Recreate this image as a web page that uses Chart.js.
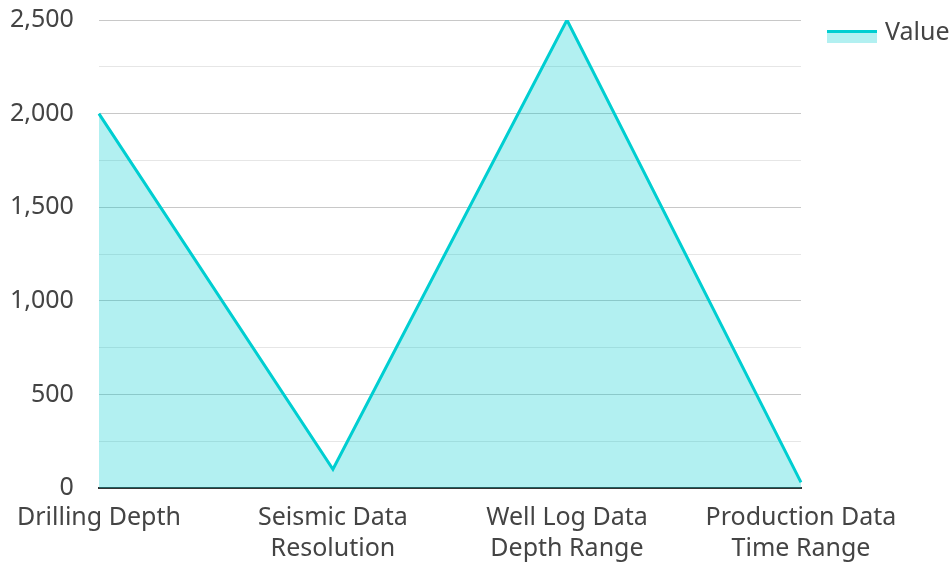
<!DOCTYPE html>
<html>
<head>
<meta charset="utf-8">
<script src="https://cdn.jsdelivr.net/npm/chart.js@4"></script>
<style>
  html, body { margin: 0; padding: 0; background: #fff; }
  #wrap { width: 951px; height: 562px; }
</style>
</head>
<body>
<div id="wrap"><canvas id="chart"></canvas></div>
<script>
const categories = [
  "Drilling Depth",
  ["Seismic Data", "Resolution"],
  ["Well Log Data", "Depth Range"],
  ["Production Data", "Time Range"]
];
const values = [2000, 100, 2500, 30];
const seriesName = "Value";

const lineColor = "#00CED1";
const fillColor = "rgba(0, 206, 209, 0.3)";
const fontSize = 25;
const fontFamily = "'Noto Sans', 'Open Sans', sans-serif";

// legend: light swatch with the series line along its top, then the label
const sideLegend = {
  id: "sideLegend",
  afterDraw(chart) {
    const ctx = chart.ctx;
    const x = chart.chartArea.right + 26;
    const y = chart.chartArea.top + 10;
    ctx.save();
    ctx.fillStyle = fillColor;
    ctx.fillRect(x, y, 50, 13);
    ctx.fillStyle = lineColor;
    ctx.fillRect(x, y, 50, 3);
    ctx.fillStyle = "#444";
    ctx.font = fontSize + "px " + fontFamily;
    ctx.textBaseline = "middle";
    ctx.textAlign = "left";
    ctx.fillText(seriesName, x + 58, y + 3);
    ctx.restore();
  }
};

Chart.defaults.font.family = fontFamily;
Chart.defaults.font.size = fontSize;
Chart.defaults.color = "#444";

new Chart(document.getElementById("chart"), {
  type: "line",
  data: {
    labels: categories,
    datasets: [{
      label: seriesName,
      data: values,
      borderColor: lineColor,
      backgroundColor: fillColor,
      borderWidth: 3,
      fill: "origin",
      tension: 0,
      pointRadius: 0
    }]
  },
  options: {
    responsive: true,
    maintainAspectRatio: false,
    animation: false,
    layout: { padding: { top: 0, right: 150, left: 10, bottom: 0 } },
    scales: {
      x: {
        offset: false,
        grid: { display: false, drawTicks: false },
        border: { display: true, color: "#333", width: 2 },
        ticks: { maxRotation: 0, padding: 14, font: { size: fontSize, lineHeight: 1.24 } },
        // padding is counted twice in the height, take it back
        afterFit: scale => { scale.height -= 16; }
      },
      y: {
        min: 0,
        max: 2500,
        grid: {
          drawTicks: false,
          color: ctx => (ctx.tick && ctx.tick.value % 500 === 0) ? "#c8c8c8" : "#e6e6e6",
          lineWidth: 1
        },
        border: { display: false },
        ticks: {
          stepSize: 250,
          padding: 25,
          autoSkip: false,
          callback: v => v % 500 === 0 ? v.toLocaleString("en-US") : ""
        },
        afterFit: scale => {
          scale.width -= 25;
          scale.paddingTop = 20;
          scale.paddingBottom = 15;
        }
      }
    },
    plugins: {
      legend: { display: false },
      tooltip: { enabled: false }
    }
  },
  plugins: [sideLegend]
});
</script>
</body>
</html>
